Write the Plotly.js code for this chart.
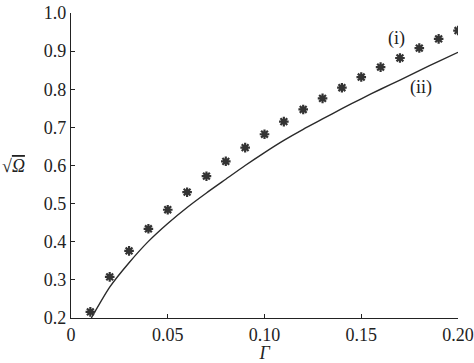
<!DOCTYPE html>
<html><head><meta charset="utf-8">
<script src="https://cdn.plot.ly/plotly-3.0.1.min.js"></script>
<style>html,body{margin:0;padding:0;background:#fff}</style>
</head><body><div id="chart" style="width:474px;height:363px"></div>
<script>
// Series (i): asterisk points
const gammaI = [0.01,0.02,0.03,0.04,0.05,0.06,0.07,0.08,0.09,0.10,0.11,0.12,0.13,0.14,0.15,0.16,0.17,0.18,0.19,0.20];
const sqrtOmegaI = [0.216,0.308,0.376,0.434,0.484,0.530,0.572,0.611,0.647,0.682,0.715,0.747,0.776,0.804,0.832,0.858,0.882,0.908,0.932,0.954];
// Series (ii): solid curve
const gammaII = [0.0105,0.02,0.03,0.04,0.05,0.06,0.07,0.08,0.09,0.10,0.11,0.12,0.13,0.14,0.15,0.16,0.17,0.18,0.19,0.20];
const sqrtOmegaII = [0.200,0.281,0.345,0.401,0.448,0.490,0.528,0.564,0.600,0.634,0.666,0.695,0.722,0.749,0.775,0.800,0.824,0.849,0.873,0.897];
const xTickVals = [0,0.05,0.10,0.15,0.20];
const xTickText = ['0','0.05','0.10','0.15','0.20'];
const yTickVals = [0.2,0.3,0.4,0.5,0.6,0.7,0.8,0.9,1.0];
const yTickText = ['0.2','0.3','0.4','0.5','0.6','0.7','0.8','0.9','1.0'];

const font = {family:'Liberation Serif, Times New Roman, serif', size:18, color:'#222'};
const traces = [
  {x:gammaII, y:sqrtOmegaII, mode:'lines', line:{color:'#2a2a2a', width:1.4, shape:'spline', smoothing:0.6}, hoverinfo:'skip'},
  {x:gammaI, y:sqrtOmegaI, mode:'markers', marker:{symbol:'asterisk-open', size:8, color:'#333', line:{color:'#333', width:2.2}}, hoverinfo:'skip'}
];
const layout = {
  width:474, height:363, showlegend:false,
  paper_bgcolor:'#fff', plot_bgcolor:'#fff',
  margin:{l:71, r:16, t:13, b:45},
  font:font,
  xaxis:{range:[0,0.2], tickvals:xTickVals, ticktext:xTickText, ticks:'inside', ticklen:4, tickcolor:'#222',
         showline:true, linecolor:'#222', linewidth:1.2, showgrid:false, zeroline:false, tickfont:font,
         title:{text:'<i>Γ</i>', font:font, standoff:4}},
  yaxis:{range:[0.2,1.0], tickvals:yTickVals, ticktext:yTickText, ticks:'inside', ticklen:4, tickcolor:'#222',
         showline:true, linecolor:'#222', linewidth:1.2, showgrid:false, zeroline:false, tickfont:font},
  annotations:[
    {xref:'paper', yref:'paper', x:-0.183, y:0.497, xanchor:'left', yanchor:'middle', showarrow:false,
     text:'√<i><span style="text-decoration:overline">Ω</span></i>', font:font},
    {xref:'x', yref:'y', x:0.168, y:0.932, showarrow:false, text:'(i)', font:font},
    {xref:'x', yref:'y', x:0.181, y:0.805, showarrow:false, text:'(ii)', font:font}
  ]
};
Plotly.newPlot('chart', traces, layout, {staticPlot:true, displayModeBar:false});
</script></body></html>
